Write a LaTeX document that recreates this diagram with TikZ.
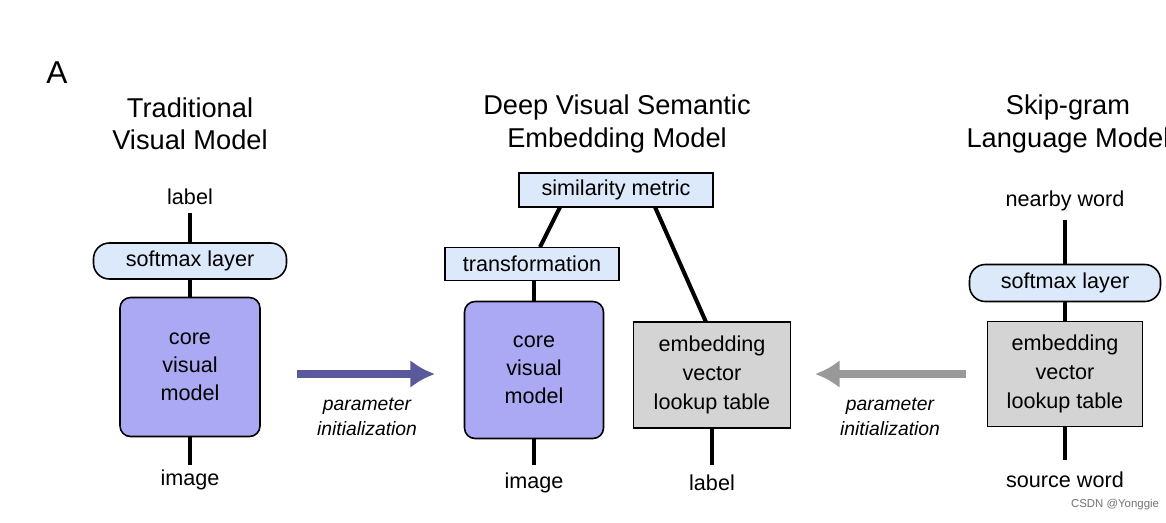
\documentclass[tikz,border=0pt]{standalone}
\usepackage{fontspec}
\setmainfont{Liberation Sans}
\usetikzlibrary{arrows.meta}
\definecolor{lb}{HTML}{DCE9FA}
\definecolor{cv}{HTML}{ABA9F4}
\begin{document}
\begin{tikzpicture}[x=0.02cm,y=-0.02cm,
 lbl/.style={font=\fontsize{12.3}{13}\selectfont},
 ttl/.style={font=\fontsize{15.5}{18.5}\selectfont,align=center},
 it/.style={font=\fontsize{11}{14}\selectfont\itshape,align=center},
 conn/.style={line width=2.3pt},
 pill/.style={draw,line width=0.9pt,fill=lb,rounded corners=9pt,font=\fontsize{12.3}{13}\selectfont},
 rbox/.style={draw,line width=0.9pt,fill=lb,font=\fontsize{12.3}{13}\selectfont},
 core/.style={draw,line width=0.9pt,fill=cv,rounded corners=6pt,align=center,font=\fontsize{12.3}{16}\selectfont},
 emb/.style={draw,line width=0.9pt,fill=black!17,align=center,font=\fontsize{12.3}{16.5}\selectfont}]
\clip (0,0) rectangle (1166,522);
\fill[white] (0,0) rectangle (1166,522);
\node[font=\fontsize{18}{18}\selectfont] (A) at (57,73) {A};
% left
\node[ttl] (t1) at (190,124) {Traditional\\Visual Model};
\node[lbl] (l1) at (190,197) {label};
\node[pill,minimum width=193*0.02cm,minimum height=36*0.02cm] (s1) at (190,261) {softmax layer};
\node[core,minimum width=140*0.02cm,minimum height=139*0.02cm] (c1) at (190,367) {core\\visual\\model};
\node[lbl] (i1) at (190,480) {image};
\draw[conn] (190,213) -- (s1.north);
\draw[conn] (s1.south) -- (c1.north);
\draw[conn] (c1.south) -- (190,465);
% arrow left
\coordinate (a1s) at (297,374); \coordinate (a1e) at (435,374);
\draw[line width=4pt,color=blue!40!black!65,-{Latex[length=14pt,width=16pt]}] (a1s) -- (a1e);
\node[it] (p1) at (367,417) {parameter\\initialization};
% middle
\node[ttl] (t2) at (617,124) {Deep Visual Semantic\\Embedding Model};
\node[rbox,minimum width=194*0.02cm,minimum height=34*0.02cm] (sm) at (616,190) {similarity metric};
\node[rbox,minimum width=174*0.02cm,minimum height=33*0.02cm] (tr) at (532,264) {transformation};
\node[core,minimum width=139*0.02cm,minimum height=137*0.02cm] (c2) at (534,370) {core\\visual\\model};
\node[emb,minimum width=157*0.02cm,minimum height=106*0.02cm] (e2) at (712,375) {embedding\\vector\\lookup table};
\node[lbl] (i2) at (534,483) {image};
\node[lbl] (l2) at (712,483) {label};
\draw[conn] (560,207) -- (540,247);
\draw[conn] (655,207) -- (706,322);
\draw[conn] (534,280) -- (c2.north);
\draw[conn] (c2.south) -- (534,465);
\draw[conn] (e2.south) -- (712,465);
% arrow right
\coordinate (a2s) at (966,374); \coordinate (a2e) at (815,374);
\draw[line width=4pt,color=black!40,-{Latex[length=14pt,width=16pt]}] (a2s) -- (a2e);
\node[it] (p2) at (890,417) {parameter\\initialization};
% right
\node[ttl] (t3) at (1068,124) {Skip-gram\\Language Model};
\node[lbl] (n3) at (1065,201) {nearby word};
\node[pill,minimum width=191*0.02cm,minimum height=37*0.02cm] (s3) at (1065,283) {softmax layer};
\node[emb,minimum width=155*0.02cm,minimum height=105*0.02cm] (e3) at (1065,374) {embedding\\vector\\lookup table};
\node[lbl] (w3) at (1065,480) {source word};
\draw[conn] (1065,220) -- (s3.north);
\draw[conn] (s3.south) -- (e3.north);
\draw[conn] (e3.south) -- (1065,460);
\node[font=\fontsize{6.5}{7}\selectfont,color=black!55] (wm) at (1115,505) {CSDN @Yonggie};
\end{tikzpicture}
\end{document}
